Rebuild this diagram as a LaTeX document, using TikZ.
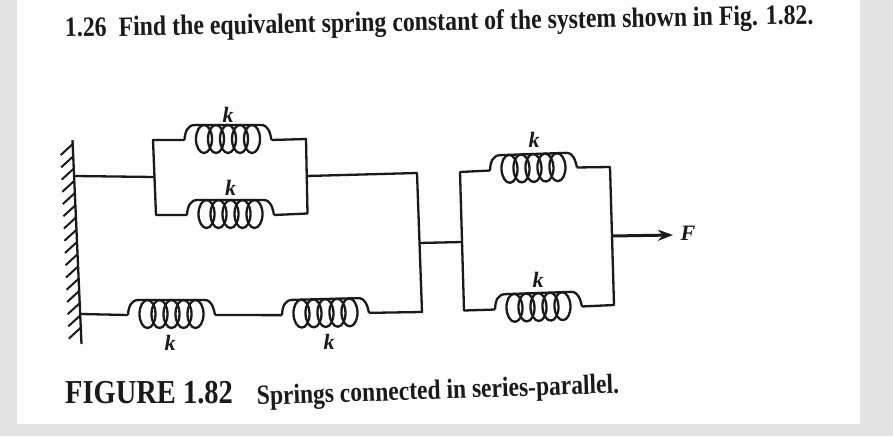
\documentclass[tikz,border=0pt]{standalone}
\usepackage{fontspec}
\setmainfont{Liberation Serif}
\newfontfamily\boldnarrow[FakeStretch=0.85]{Liberation Serif Bold}
\usetikzlibrary{calc,arrows.meta}
\definecolor{paper}{HTML}{FDFDFD}
\definecolor{margin}{HTML}{E3E3E3}
\definecolor{ink}{HTML}{1A1A1A}
\tikzset{
wire/.style={draw=ink, line width=2.3pt, line join=round},
symbol/.style={text=ink, font=\fontsize{22}{22}\selectfont\bfseries\itshape, inner sep=0pt},
coil/.pic={
	\coordinate (-in) at (-43.5,0);
	\coordinate (-out) at (43.5,0);
	\draw[wire] (-in) .. controls (-43,-9) and (-40,-15) .. (-33,-15)
		-- (33,-15) .. controls (40,-15) and (42,-8) .. (-out);
	\foreach \i in {-24,-12,0,12,24}
		\draw[wire] (\i,-1) ellipse (8 and 14);
}
}

\begin{document}
\begin{tikzpicture}[x=1pt, y=-1pt]
	\useasboundingbox (0,0) rectangle (893,436);
	\fill[margin] (0,0) rectangle (893,436);
	\fill[paper] (17,0) rectangle (860,424);
	% title and caption
	\node[anchor=base west, inner sep=0pt, rotate=1, text=ink] (title) at (65,37)
		{\boldnarrow\fontsize{28}{28}\selectfont 1.26\hspace{6pt} Find the equivalent spring constant of the system shown in Fig. 1.82.};
	\node[anchor=base west, inner sep=0pt, text=ink] (figno) at (65,403)
		{\boldnarrow\fontsize{33.5}{33.5}\selectfont FIGURE 1.82};
	\node[anchor=base west, inner sep=0pt, rotate=1.9, text=ink] (caption) at (257,405)
		{\boldnarrow\fontsize{27.7}{27.7}\selectfont Springs connected in series-parallel.};
	% wall
	\coordinate (walltop) at (72.5,140);
	\coordinate (wallbot) at (81.5,344);
	\draw[wire] (walltop) -- (wallbot);
	\foreach \t in {0.02,0.08,...,0.95}
		\draw[ink, line width=2pt] ($(walltop)!\t!(wallbot)$) -- ++(-12,11);
	% junctions
	\coordinate (wallup) at (74,176);
	\coordinate (walldown) at (80.5,314);
	\coordinate (leftin) at (154,177);
	\coordinate (leftout) at (307,176);
	\coordinate (lefttl) at (153,140);
	\coordinate (leftbl) at (156,215);
	\coordinate (lefttr) at (306,139);
	\coordinate (leftbr) at (307.5,213.5);
	\coordinate (midtop) at (417,173);
	\coordinate (midbot) at (422,312);
	\coordinate (midout) at (419,243);
	\coordinate (rightin) at (462,242);
	\coordinate (righttl) at (460,172);
	\coordinate (rightbl) at (464,310.5);
	\coordinate (righttr) at (610,167);
	\coordinate (rightbr) at (614,305);
	\coordinate (rightout) at (612,236);
	\coordinate (force) at (673,235);
	% springs
	\pic (sa) at (228,140) {coil};
	\pic (sb) at (230.5,215) {coil};
	\pic (sc) at (171.5,315) {coil};
	\pic[rotate=1.5] (sd) at (325.5,314) {coil};
	\pic[rotate=2] (se) at (533.5,169) {coil};
	\pic[rotate=2] (sf) at (538.5,308) {coil};
	% connectors
	\draw[wire] (wallup) -- (leftin);
	\draw[wire] (sa-in) -- (lefttl) -- (leftbl) -- (sb-in);
	\draw[wire] (sa-out) -- (lefttr) -- (leftbr) -- (sb-out);
	\draw[wire] (leftout) -- (midtop) -- (midbot) -- (sd-out);
	\draw[wire] (walldown) -- (sc-in);
	\draw[wire] (sc-out) -- (sd-in);
	\draw[wire] (midout) -- (rightin);
	\draw[wire] (se-in) -- (righttl) -- (rightbl) -- (sf-in);
	\draw[wire] (se-out) -- (righttr) -- (rightbr) -- (sf-out);
	\draw[ink, line width=3pt, -{Stealth[length=15pt,width=11pt]}] (rightout) -- (force);
	% labels
	\node[symbol] (ka) at (228,115) {k};
	\node[symbol] (kb) at (230.5,188) {k};
	\node[symbol] (kc) at (170,343) {k};
	\node[symbol] (kd) at (329,342) {k};
	\node[symbol] (ke) at (534,140) {k};
	\node[symbol] (kf) at (538,280) {k};
	\node[symbol] (fl) at (688,233) {F};
\end{tikzpicture}
\end{document}
